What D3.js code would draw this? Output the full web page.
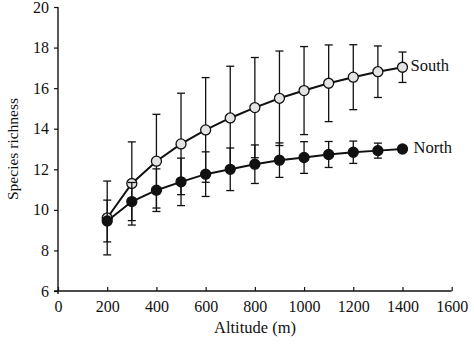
<!DOCTYPE html>
<html>
<head>
<meta charset="utf-8">
<script src="https://cdn.jsdelivr.net/npm/d3@7/dist/d3.min.js"></script>
<style>
    html, body { margin: 0; padding: 0; background: #fff; }
    svg { display: block; }
    text { font-family: "Liberation Serif", "Times New Roman", serif; fill: #111; }
</style>
</head>
<body>
<svg id="chart" width="474" height="364"></svg>
<script>
// Altitude classes (m)
const altitudes = [200, 300, 400, 500, 600, 700, 800, 900, 1000, 1100, 1200, 1300, 1400];

// Mean species richness and error (half-length of bar)
const southMean = [9.6, 11.3, 12.4, 13.25, 13.94, 14.53, 15.04, 15.5, 15.88, 16.24, 16.54, 16.81, 17.03];
const southErr  = [1.82, 2.05, 2.31, 2.5, 2.58, 2.55, 2.47, 2.33, 2.17, 1.89, 1.6, 1.27, 0.75];
const northMean = [9.45, 10.41, 10.97, 11.38, 11.76, 12.0, 12.25, 12.45, 12.58, 12.73, 12.84, 12.92, 13.0];
const northErr  = [1.03, 0.94, 1.05, 1.17, 1.1, 1.05, 0.95, 0.85, 0.78, 0.64, 0.55, 0.37, 0.16];

const xTicks = [0, 200, 400, 600, 800, 1000, 1200, 1400, 1600];
const yTicks = [6, 8, 10, 12, 14, 16, 18, 20];

const series = [
    { name: 'South', mean: southMean, err: southErr, fill: '#e4e4e4', labelDx: 8, labelDy: 4 },
    { name: 'North', mean: northMean, err: northErr, fill: '#111', labelDx: 11, labelDy: 4 },
];

const svg = d3.select('#chart');
const x = d3.scaleLinear().domain([0, 1600]).range([58, 451.7]);
const y = d3.scaleLinear().domain([6, 20]).range([291, 7]);

// Axes
const xAxis = svg.append('g')
    .attr('transform', `translate(0,${y(6)})`)
    .call(d3.axisBottom(x).tickValues(xTicks).tickFormat(d3.format('d'))
        .tickSize(-4).tickPadding(10).tickSizeOuter(0));
xAxis.select('.domain').attr('d', `M${x(0) - 4},0H${x(1600)}`);

const yAxis = svg.append('g')
    .attr('transform', `translate(${x(0)},0)`)
    .call(d3.axisLeft(y).tickValues(yTicks).tickSize(4).tickPadding(5).tickSizeOuter(0));
yAxis.select('.domain').attr('d', `M0,${y(20)}V${y(6) + 3}`);

svg.selectAll('.tick line').attr('stroke', '#111').attr('stroke-width', 1.2);
svg.selectAll('.domain').attr('stroke', '#111').attr('stroke-width', 1.4);
svg.selectAll('.tick text')
    .attr('font-size', 16)
    .attr('font-family', '"Liberation Serif", serif')
    .attr('fill', '#111');
xAxis.selectAll('.tick text').attr('dy', '0.71em');

// Axis titles
svg.append('text')
    .attr('x', 255).attr('y', 333)
    .attr('text-anchor', 'middle')
    .attr('font-size', 16.5)
    .text('Altitude (m)');

svg.append('text')
    .attr('transform', `translate(18,${y(13)}) rotate(-90)`)
    .attr('text-anchor', 'middle')
    .attr('font-size', 15.5)
    .text('Species richness');

// Series: error bars, lines, markers
const line = d3.line().x(d => x(d.alt)).y(d => y(d.mean));
const capW = 4;

series.forEach(s => {
    const pts = altitudes.map((alt, i) => ({ alt, mean: s.mean[i], err: s.err[i] }));
    const g = svg.append('g').attr('class', 'series');

    const bars = g.append('g').attr('stroke', '#111').attr('stroke-width', 1.3);
    pts.forEach(d => {
        const cx = x(d.alt);
        const hi = y(d.mean + d.err);
        const lo = y(d.mean - d.err);
        bars.append('line').attr('x1', cx).attr('x2', cx).attr('y1', hi).attr('y2', lo);
        bars.append('line').attr('x1', cx - capW).attr('x2', cx + capW).attr('y1', hi).attr('y2', hi);
        bars.append('line').attr('x1', cx - capW).attr('x2', cx + capW).attr('y1', lo).attr('y2', lo);
    });
    s.pts = pts;
    s.g = g;
});

series.forEach(s => {
    s.g.append('path')
        .datum(s.pts)
        .attr('d', line)
        .attr('fill', 'none')
        .attr('stroke', '#111')
        .attr('stroke-width', 2);
});

series.forEach(s => {
    s.g.selectAll('circle')
        .data(s.pts)
        .enter()
        .append('circle')
        .attr('cx', d => x(d.alt))
        .attr('cy', d => y(d.mean))
        .attr('r', 5)
        .attr('fill', s.fill)
        .attr('stroke', '#111')
        .attr('stroke-width', 1.3);

    const last = s.pts[s.pts.length - 1];
    s.g.append('text')
        .attr('x', x(last.alt) + s.labelDx)
        .attr('y', y(last.mean) + s.labelDy)
        .attr('font-size', 16.5)
        .text(s.name);
});
</script>
</body>
</html>
